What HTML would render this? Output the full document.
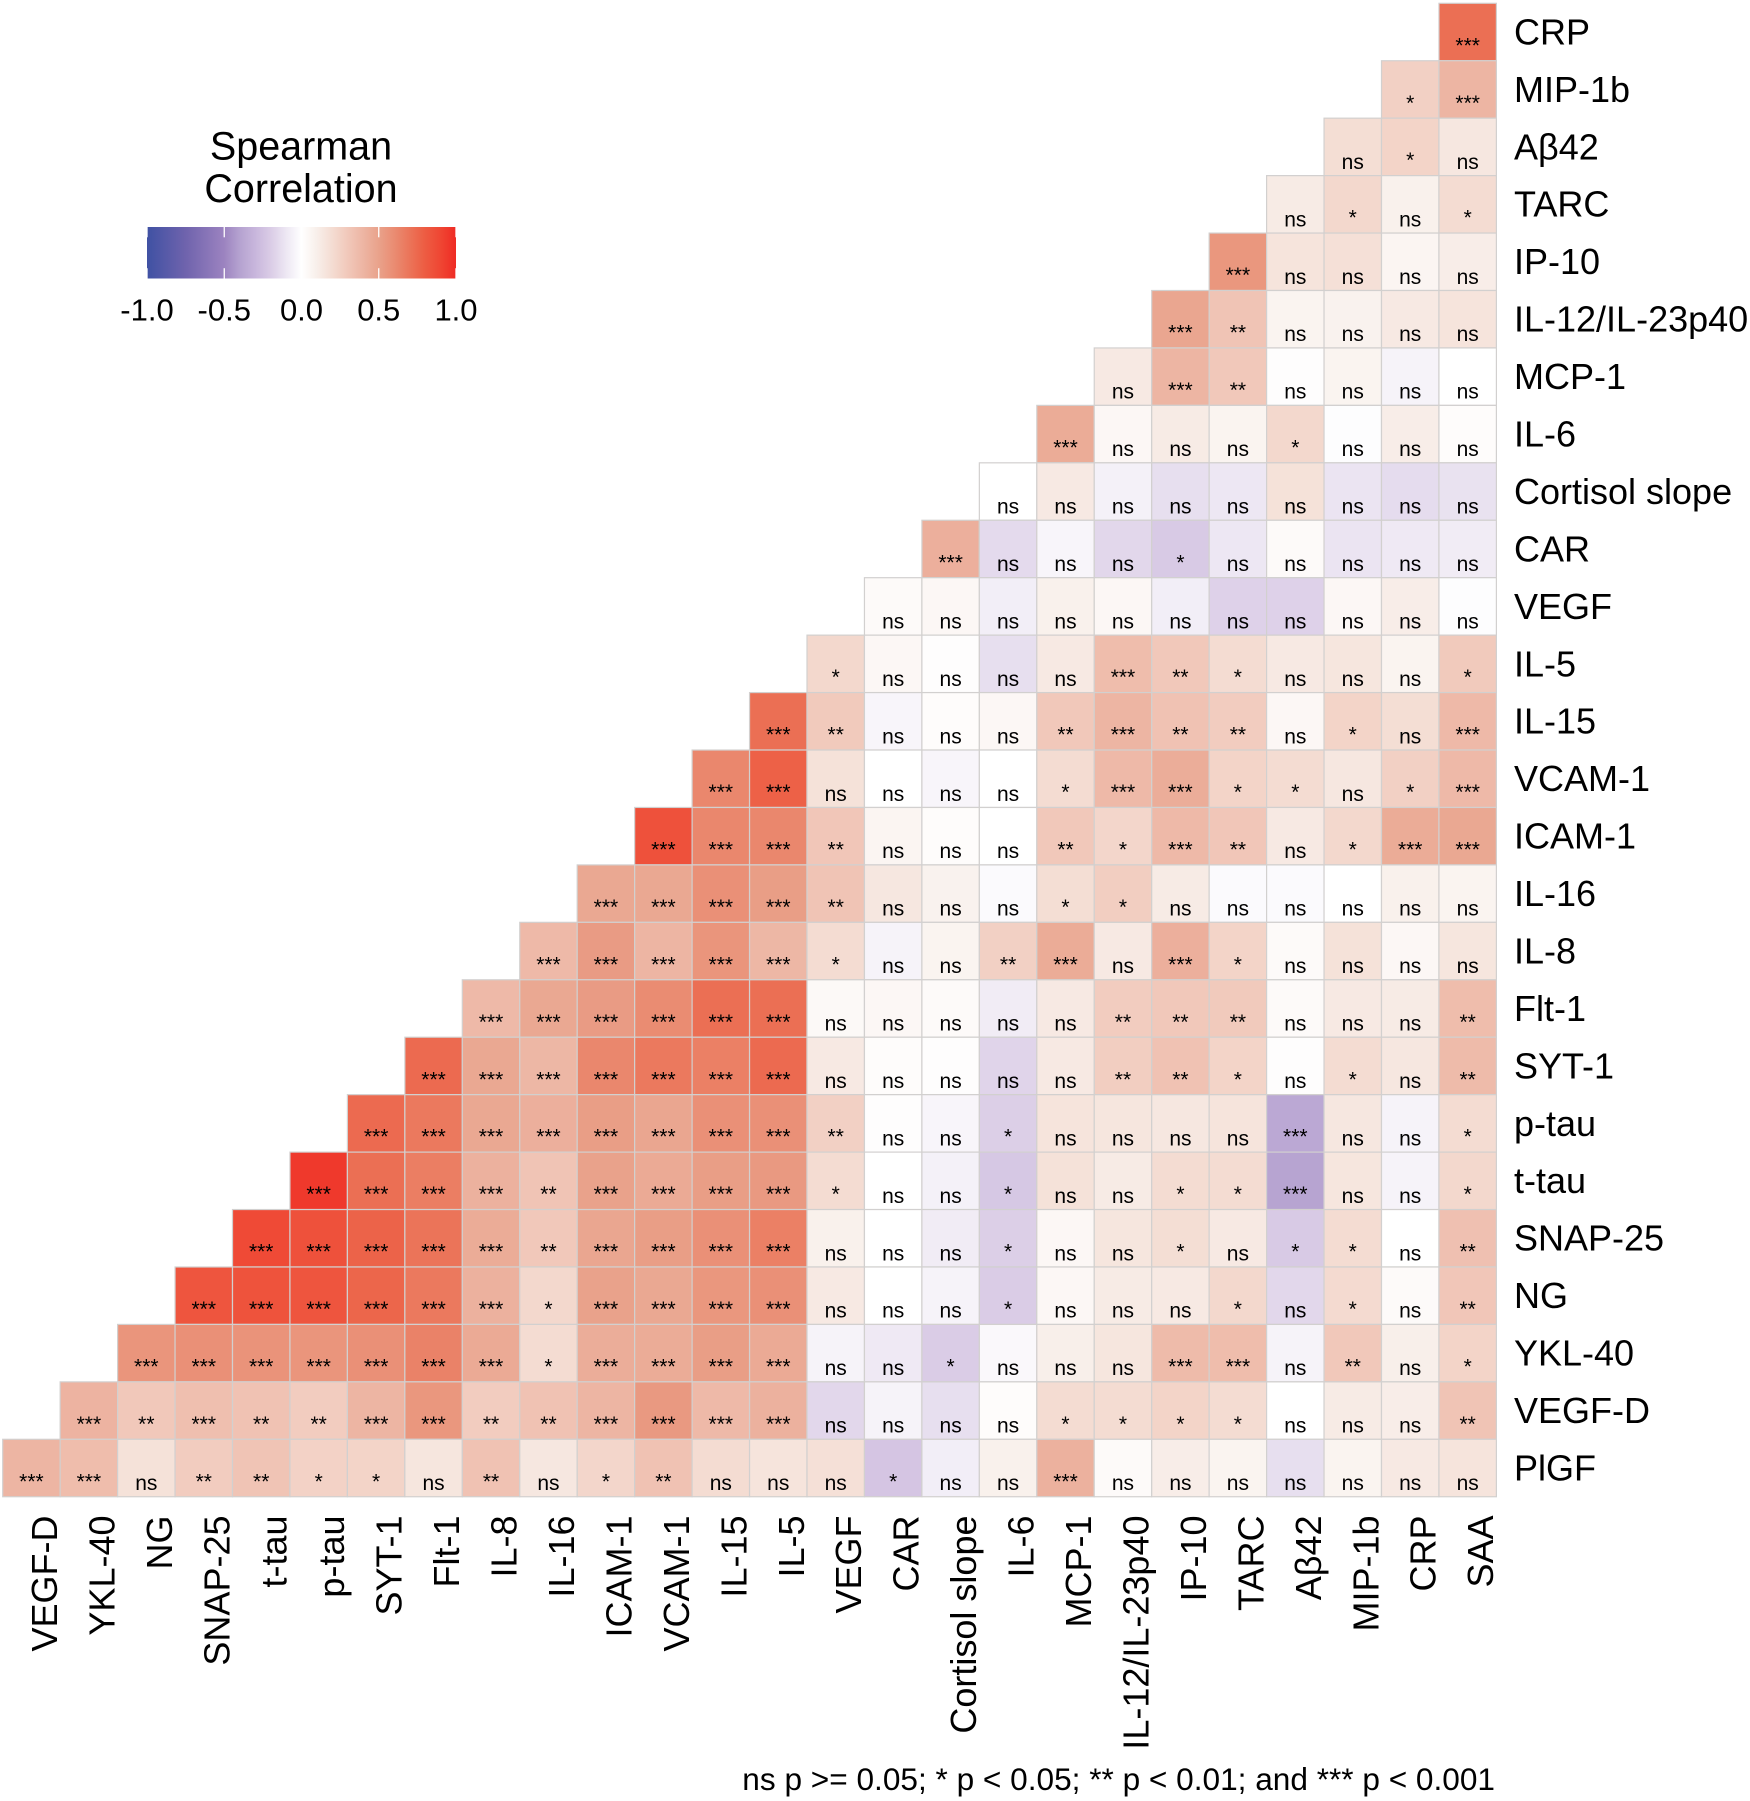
<!DOCTYPE html>
<html lang="en">
<head>
<meta charset="utf-8">
<title>Spearman correlation heatmap</title>
<style>
  html, body { margin: 0; padding: 0; background: #ffffff; }
  svg { display: block; }
  text { font-family: "Liberation Sans", "DejaVu Sans", sans-serif; fill: #000000; }
</style>
</head>
<body>
<svg id="chart" xmlns="http://www.w3.org/2000/svg" width="1750" height="1801" viewBox="0 0 1750 1801">
  <rect x="0" y="0" width="1750" height="1801" fill="#ffffff"/>
  <g id="cells"></g>
  <g id="y-labels"></g>
  <g id="x-labels"></g>
  <g id="legend">
    <text x="301" y="159.5" font-size="39.5" text-anchor="middle">Spearman</text>
    <text x="301" y="202" font-size="39.5" text-anchor="middle">Correlation</text>
    <defs><linearGradient id="legend-gradient" x1="0" x2="1" y1="0" y2="0"></linearGradient></defs>
    <rect x="147" y="227" width="309" height="51.5" fill="url(#legend-gradient)"/>
  </g>
  <text x="1495" y="1790" font-size="31.6" text-anchor="end">ns p &gt;= 0.05; * p &lt; 0.05; ** p &lt; 0.01; and *** p &lt; 0.001</text>
</svg>
<script>
// Column variables, left to right
const colLabels = ["VEGF-D","YKL-40","NG","SNAP-25","t-tau","p-tau","SYT-1","Flt-1","IL-8","IL-16","ICAM-1","VCAM-1","IL-15","IL-5","VEGF","CAR","Cortisol slope","IL-6","MCP-1","IL-12/IL-23p40","IP-10","TARC","Aβ42","MIP-1b","CRP","SAA"];
// Row variables, top to bottom
const rowLabels = ["CRP","MIP-1b","Aβ42","TARC","IP-10","IL-12/IL-23p40","MCP-1","IL-6","Cortisol slope","CAR","VEGF","IL-5","IL-15","VCAM-1","ICAM-1","IL-16","IL-8","Flt-1","SYT-1","p-tau","t-tau","SNAP-25","NG","YKL-40","VEGF-D","PlGF"];
// Correlations per row; each row is right-aligned against the SAA column
const correlations = [
  [.72],
  [.26,.40],
  [.19,.24,.14],
  [.12,.22,.09,.20],
  [.55,.16,.18,.06,.11],
  [.48,.32,.07,.08,.13,.16],
  [.13,.40,.30,.01,.07,-.05,0],
  [.45,.05,.12,.07,.22,-.01,.11,.02],
  [0,.13,-.06,-.13,-.10,.17,-.11,-.14,-.12],
  [.43,-.15,-.04,-.16,-.21,-.10,.03,-.11,-.09,-.08],
  [.03,.05,-.07,.09,.05,-.07,-.18,-.18,.05,.11,-.01],
  [.22,.05,.01,-.13,.13,.36,.30,.20,.13,.15,.07,.29],
  [.72,.29,-.04,.02,.05,.30,.40,.33,.28,.05,.24,.19,.38],
  [.62,.78,.17,0,-.04,0,.20,.38,.44,.24,.20,.14,.26,.38],
  [.85,.62,.62,.31,.06,.02,0,.30,.23,.38,.31,.13,.22,.45,.47],
  [.47,.47,.58,.52,.32,.14,.08,-.02,.19,.27,.12,-.02,-.02,0,.09,.07],
  [.38,.53,.40,.56,.39,.20,-.05,.07,.26,.45,.13,.43,.24,.03,.17,.05,.15],
  [.38,.47,.53,.60,.72,.72,.04,.05,.03,-.08,.13,.28,.30,.29,.03,.13,.12,.36],
  [.74,.47,.39,.62,.68,.65,.74,.13,.02,.01,-.17,.13,.27,.33,.24,.01,.20,.14,.37],
  [.74,.68,.47,.43,.52,.48,.58,.58,.26,.01,-.04,-.19,.16,.15,.14,.16,-.37,.14,-.05,.20],
  [.95,.72,.66,.42,.32,.50,.46,.52,.54,.20,0,-.06,-.22,.17,.12,.20,.20,-.39,.15,-.05,.22],
  [.88,.85,.77,.70,.45,.30,.48,.52,.58,.65,.09,0,-.08,-.19,.05,.15,.19,.13,-.21,.20,0,.34],
  [.83,.84,.83,.76,.68,.42,.22,.50,.47,.55,.58,.13,0,-.05,-.20,.05,.12,.13,.22,-.16,.21,.03,.31],
  [.56,.58,.57,.56,.58,.64,.46,.20,.44,.45,.52,.46,-.05,-.09,-.20,-.03,.10,.15,.37,.36,-.05,.30,.10,.24],
  [.41,.30,.35,.33,.28,.40,.55,.28,.33,.40,.54,.38,.42,-.16,-.05,-.13,.02,.20,.20,.24,.20,0,.12,.11,.32],
  [.40,.36,.17,.28,.32,.25,.24,.15,.33,.14,.23,.33,.20,.16,.18,-.23,-.07,.09,.42,.03,.11,.07,-.13,.07,.13,.16]
];
// Number of significance stars per cell (0 = ns), same shape as correlations
const significance = [
  [3],
  [1,3],
  [0,1,0],
  [0,1,0,1],
  [3,0,0,0,0],
  [3,2,0,0,0,0],
  [0,3,2,0,0,0,0],
  [3,0,0,0,1,0,0,0],
  [0,0,0,0,0,0,0,0,0],
  [3,0,0,0,1,0,0,0,0,0],
  [0,0,0,0,0,0,0,0,0,0,0],
  [1,0,0,0,0,3,2,1,0,0,0,1],
  [3,2,0,0,0,2,3,2,2,0,1,0,3],
  [3,3,0,0,0,0,1,3,3,1,1,0,1,3],
  [3,3,3,2,0,0,0,2,1,3,2,0,1,3,3],
  [3,3,3,3,2,0,0,0,1,1,0,0,0,0,0,0],
  [3,3,3,3,3,1,0,0,2,3,0,3,1,0,0,0,0],
  [3,3,3,3,3,3,0,0,0,0,0,2,2,2,0,0,0,2],
  [3,3,3,3,3,3,3,0,0,0,0,0,2,2,1,0,1,0,2],
  [3,3,3,3,3,3,3,3,2,0,0,1,0,0,0,0,3,0,0,1],
  [3,3,3,3,2,3,3,3,3,1,0,0,1,0,0,1,1,3,0,0,1],
  [3,3,3,3,3,2,3,3,3,3,0,0,0,1,0,0,1,0,1,1,0,2],
  [3,3,3,3,3,3,1,3,3,3,3,0,0,0,1,0,0,0,1,0,1,0,2],
  [3,3,3,3,3,3,3,1,3,3,3,3,0,0,1,0,0,0,3,3,0,2,0,1],
  [3,2,3,2,2,3,3,2,2,3,3,3,3,0,0,0,0,1,1,1,1,0,0,0,2],
  [3,3,0,2,2,1,1,0,2,0,1,2,0,0,0,1,0,0,3,0,0,0,0,0,0,0]
];
const sigLabels = ["ns","*","**","***"];
const legendTicks = [-1.0,-0.5,0.0,0.5,1.0];
const legendTickLabels = ["-1.0","-0.5","0.0","0.5","1.0"];
// Diverging colour scale anchors
const scaleValues = [-1,-.75,-.5,-.4,-.3,-.2,-.1,0,.1,.2,.3,.4,.5,.6,.7,.8,.9,1];
const scaleColors = ["#3f51a3","#6f63ad","#9c83c0","#b5a2d0","#c8b6dc","#dacce6","#ede7f3","#ffffff","#f8efea","#f4dcd2","#f1c8ba","#edb5a3","#e9a28b","#ea8c72","#eb7459","#ed5c42","#ef4633","#ef2b24"];

const NS = "http://www.w3.org/2000/svg";
const plotLeft = 2.7, plotTop = 3.3, cellW = 57.45, cellH = 57.44;
const xPos = function (col) { return plotLeft + col * cellW; };
const yPos = function (row) { return plotTop + row * cellH; };
const legendX = function (v) { return 147 + (v + 1) / 2 * 309; };

function hexToRgb(h) {
  return [parseInt(h.slice(1, 3), 16), parseInt(h.slice(3, 5), 16), parseInt(h.slice(5, 7), 16)];
}
function colorScale(v) {
  const c = Math.max(-1, Math.min(1, v));
  for (let i = 0; i < scaleValues.length - 1; i++) {
    if (c <= scaleValues[i + 1]) {
      const t = (c - scaleValues[i]) / (scaleValues[i + 1] - scaleValues[i]);
      const a = hexToRgb(scaleColors[i]), b = hexToRgb(scaleColors[i + 1]);
      return "rgb(" + a.map(function (x, k) { return Math.round(x + (b[k] - x) * t); }).join(",") + ")";
    }
  }
  return scaleColors[scaleColors.length - 1];
}
function make(tag, attrs, text) {
  const el = document.createElementNS(NS, tag);
  Object.keys(attrs).forEach(function (k) { el.setAttribute(k, attrs[k]); });
  if (text !== undefined) el.textContent = text;
  return el;
}

// Cells and significance labels
const cellsG = document.getElementById("cells");
correlations.forEach(function (values, r) {
  const firstCol = colLabels.length - values.length;
  values.forEach(function (v, i) {
    const c = firstCol + i;
    const rect = make("rect", { x: xPos(c), y: yPos(r), width: cellW, height: cellH, fill: colorScale(v), stroke: "#d2d0cf", "stroke-width": 1.2 });
    
    
    cellsG.appendChild(rect);
  });
});
correlations.forEach(function (values, r) {
  const firstCol = colLabels.length - values.length;
  values.forEach(function (v, i) {
    const c = firstCol + i;
    const stars = significance[r][i];
    const baseline = yPos(r) + cellH - (stars === 0 ? 6.7 : 8.4);
    const label = make("text", { x: xPos(c) + cellW / 2, y: baseline, "font-size": 21, "text-anchor": "middle" }, sigLabels[stars]);
    
    
    cellsG.appendChild(label);
  });
});

// Y axis labels
const yG = document.getElementById("y-labels");
rowLabels.forEach(function (name, r) {
  const t = make("text", { x: 1514, y: yPos(r) + cellH / 2 + 12.4, "font-size": 36 }, name);
  
  
  yG.appendChild(t);
});

// X axis labels
const xG = document.getElementById("x-labels");
colLabels.forEach(function (name, c) {
  const bx = xPos(c) + cellW / 2 + 25.5;
  const t = make("text", { transform: "translate(" + bx + ",1515.5) rotate(-90)", x: 0, y: 0, "font-size": 36, "text-anchor": "end" }, name);
  
  
  xG.appendChild(t);
});

// Legend gradient, ticks and labels
const grad = document.getElementById("legend-gradient");
scaleValues.forEach(function (v, i) {
  grad.appendChild(make("stop", { offset: (v + 1) / 2, "stop-color": scaleColors[i] }));
});
const legendG = document.getElementById("legend");
legendTicks.forEach(function (v, i) {
  const x = legendX(v);
  const top = make("line", { x1: x, x2: x, y1: 227, y2: 237.3, stroke: "#ffffff", "stroke-width": 1.3 });
  
  
  legendG.appendChild(top);
  const bottom = make("line", { x1: x, x2: x, y1: 268.2, y2: 278.5, stroke: "#ffffff", "stroke-width": 1.3 });
  
  
  legendG.appendChild(bottom);
  const label = make("text", { x: x, y: 320.7, "font-size": 31, "text-anchor": "middle" }, legendTickLabels[i]);
  
  
  legendG.appendChild(label);
});
</script>
</body>
</html>
